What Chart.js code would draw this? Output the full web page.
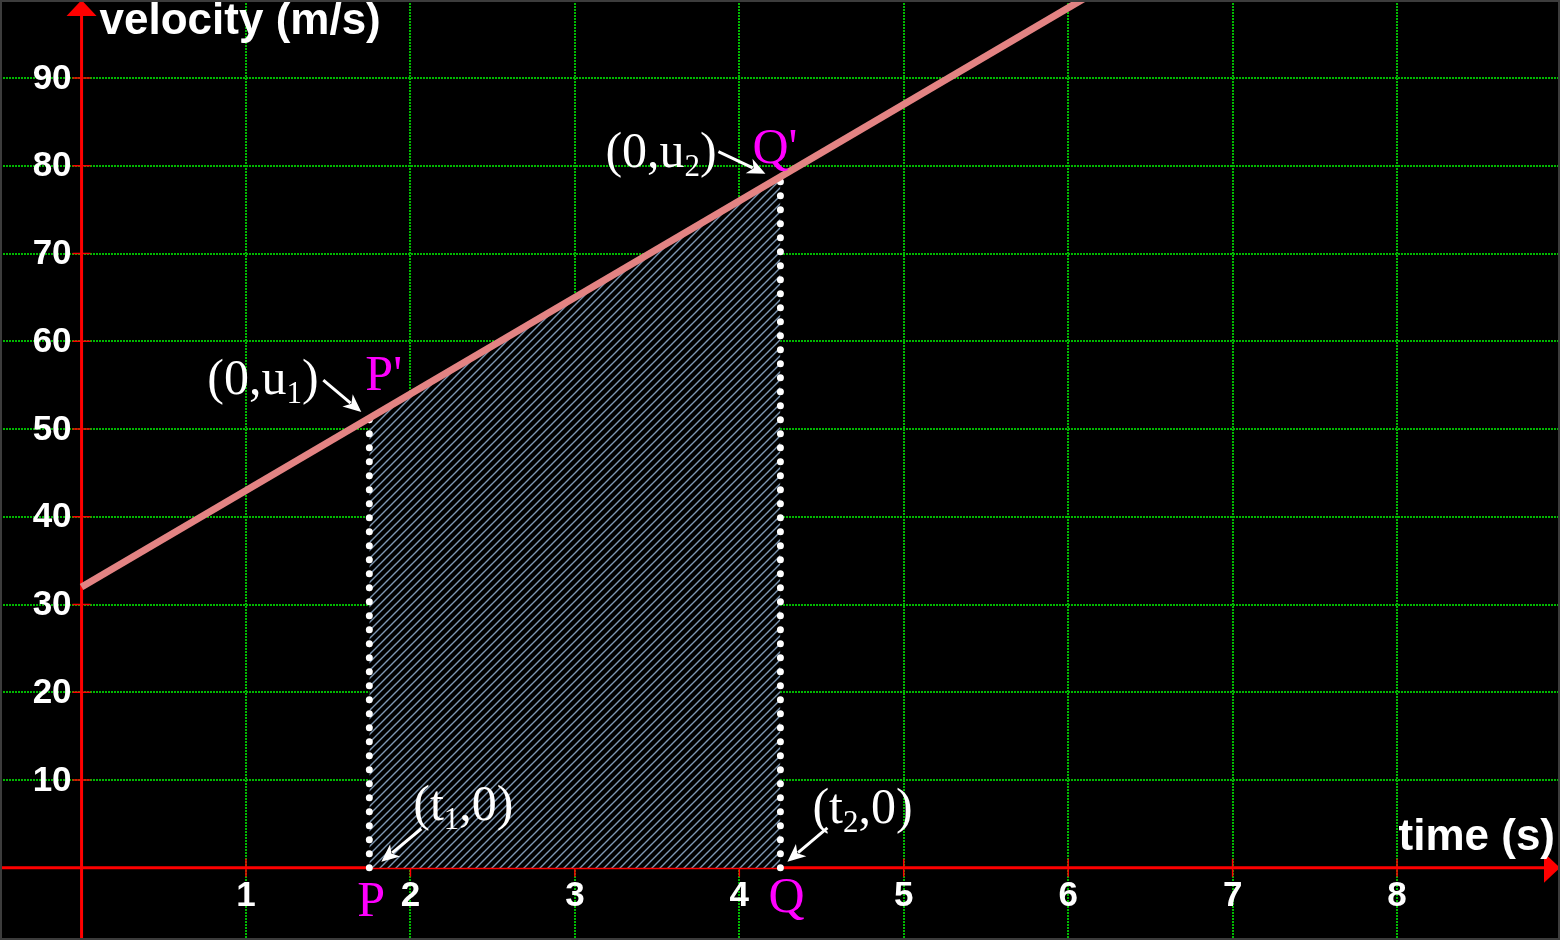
<!DOCTYPE html>
<html>
<head>
<meta charset="utf-8">
<title>velocity - time graph</title>
<script src="https://cdn.jsdelivr.net/npm/chart.js@4.4.1/dist/chart.umd.min.js"></script>
<style>
  html, body { margin: 0; padding: 0; background: #000; }
  #wrap { width: 1560px; height: 940px; position: relative; }
</style>
</head>
<body>
<div id="wrap"><canvas id="vtChart"></canvas></div>
<script>
// axis ranges
const xRange = [-0.496, 8.991];
const yRange = [-8.23, 98.89];
const xTicks = [1, 2, 3, 4, 5, 6, 7, 8];
const yTicks = [10, 20, 30, 40, 50, 60, 70, 80, 90];

// the velocity line (v = 32 + 11 t)
const lineT = [0, 6.1];
const lineV = [32, 99.1];

// instants t1, t2 and the velocities u1, u2 at them
const pointT = [1.75, 4.25];
const pointV = [51.25, 78.75];

const RED = '#ff0000';
const GREEN = 'rgb(0,185,0)';
const MAGENTA = '#ff00ff';
const SERIF = '"Liberation Serif", "Times New Roman", serif';
const SANS = '"Liberation Sans", Arial, sans-serif';

// annotations: anchor index / which end, text offset and arrow offsets (px)
const notes = [
  { i: 0, top: true,  parts: [['(0,u'], ['1', 1], [')']], dx: -162, dy: -24, arrow: [-46, -38, -8, -6] },
  { i: 1, top: true,  parts: [['(0,u'], ['2', 1], [')']], dx: -175, dy: -10, arrow: [-62, -25, -15, -3] },
  { i: 0, top: false, parts: [['(t'], ['1', 1], [',0)']], dx: 44, dy: -48, arrow: [52, -39, 12, -6] },
  { i: 1, top: false, parts: [['(t'], ['2', 1], [',0)']], dx: 32, dy: -45, arrow: [47, -40, 7, -6] }
];
const letters = [
  { i: 0, top: true,  text: "P'", dx: -4, dy: -28 },
  { i: 1, top: true,  text: "Q'", dx: -28, dy: -14 },
  { i: 0, top: false, text: 'P', dx: -12, dy: 48 },
  { i: 1, top: false, text: 'Q', dx: -12, dy: 44 }
];

function makeHatch(ctx) {
  const c = document.createElement('canvas');
  c.width = 8; c.height = 8;
  const g = c.getContext('2d');
  g.fillStyle = '#000';
  g.fillRect(0, 0, 8, 8);
  g.strokeStyle = '#7e98b4';
  g.lineWidth = 1.4;
  g.beginPath();
  g.moveTo(-2, 10); g.lineTo(10, -2);
  g.moveTo(-2, 2); g.lineTo(2, -2);
  g.moveTo(6, 10); g.lineTo(10, 6);
  g.stroke();
  return ctx.createPattern(c, 'repeat');
}

function anchorPx(chart, i, top) {
  return [chart.scales.x.getPixelForValue(pointT[i]),
          chart.scales.y.getPixelForValue(top ? pointV[i] : 0)];
}

function drawArrow(ctx, x1, y1, x2, y2) {
  const a = Math.atan2(y2 - y1, x2 - x1);
  const head = 18, half = 8;
  const bx = x2 - head * Math.cos(a), by = y2 - head * Math.sin(a);
  ctx.beginPath();
  ctx.moveTo(x1, y1);
  ctx.lineTo(bx + 4 * Math.cos(a), by + 4 * Math.sin(a));
  ctx.stroke();
  ctx.beginPath();
  ctx.moveTo(x2, y2);
  ctx.lineTo(bx + half * Math.sin(a), by - half * Math.cos(a));
  ctx.lineTo(bx + 5 * Math.cos(a), by + 5 * Math.sin(a));
  ctx.lineTo(bx - half * Math.sin(a), by + half * Math.cos(a));
  ctx.closePath();
  ctx.fill();
}

// background + frame
const backdrop = {
  id: 'backdrop',
  beforeDraw(chart) {
    const ctx = chart.ctx;
    ctx.save();
    ctx.fillStyle = '#000';
    ctx.fillRect(0, 0, chart.width, chart.height);
    ctx.restore();
  },
  afterDraw(chart) {
    const ctx = chart.ctx;
    ctx.save();
    ctx.strokeStyle = '#3c3c3c';
    ctx.lineWidth = 2;
    ctx.strokeRect(1, 1, chart.width - 2, chart.height - 2);
    ctx.restore();
  }
};

// red axes with arrows and small ticks
const redAxes = {
  id: 'redAxes',
  beforeDatasetsDraw(chart) {
    const { ctx, chartArea: a, scales: { x, y } } = chart;
    const x0 = x.getPixelForValue(0), y0 = y.getPixelForValue(0);
    ctx.save();
    ctx.strokeStyle = RED;
    ctx.fillStyle = RED;
    ctx.lineWidth = 3;
    ctx.beginPath();
    ctx.moveTo(x0, a.bottom); ctx.lineTo(x0, a.top + 10);
    ctx.moveTo(a.left, y0); ctx.lineTo(a.right - 10, y0);
    ctx.stroke();
    ctx.lineWidth = 1.5;
    ctx.beginPath();
    xTicks.forEach(t => {
      const px = x.getPixelForValue(t);
      ctx.moveTo(px, y0 - 9); ctx.lineTo(px, y0 + 9);
    });
    yTicks.forEach(v => {
      const py = y.getPixelForValue(v);
      ctx.moveTo(x0 - 9, py); ctx.lineTo(x0 + 9, py);
    });
    ctx.stroke();
    ctx.beginPath();
    ctx.moveTo(x0, a.top); ctx.lineTo(x0 - 15, a.top + 16); ctx.lineTo(x0 + 15, a.top + 16);
    ctx.closePath(); ctx.fill();
    ctx.beginPath();
    ctx.moveTo(a.right, y0); ctx.lineTo(a.right - 16, y0 - 15); ctx.lineTo(a.right - 16, y0 + 15);
    ctx.closePath(); ctx.fill();
    ctx.restore();
  }
};

// tick labels, axis titles, annotations
const texts = {
  id: 'texts',
  afterDatasetsDraw(chart) {
    const { ctx, chartArea: a, scales: { x, y } } = chart;
    const x0 = x.getPixelForValue(0), y0 = y.getPixelForValue(0);
    ctx.save();
    ctx.fillStyle = '#fff';
    ctx.font = 'bold 35px ' + SANS;
    ctx.textAlign = 'right';
    ctx.textBaseline = 'middle';
    yTicks.forEach(v => ctx.fillText(String(v), x0 - 10, y.getPixelForValue(v) + 1));
    ctx.textAlign = 'center';
    xTicks.forEach(t => ctx.fillText(String(t), x.getPixelForValue(t), y0 + 29));

    ctx.font = 'bold 44px ' + SANS;
    ctx.textBaseline = 'alphabetic';
    ctx.textAlign = 'left';
    ctx.fillText('velocity (m/s)', x0 + 18, a.top + 34);
    ctx.textAlign = 'right';
    ctx.fillText('time (s)', a.right - 5, y0 - 18);

    ctx.textAlign = 'left';
    ctx.strokeStyle = '#fff';
    ctx.lineWidth = 3;
    notes.forEach(n => {
      const [ax, ay] = anchorPx(chart, n.i, n.top);
      let cx = ax + n.dx;
      n.parts.forEach(([s, sub]) => {
        ctx.font = (sub ? '31px ' : '50px ') + SERIF;
        ctx.fillText(s, cx, ay + n.dy + (sub ? 9 : 0));
        cx += ctx.measureText(s).width;
      });
      const r = n.arrow;
      drawArrow(ctx, ax + r[0], ay + r[1], ax + r[2], ay + r[3]);
    });

    ctx.fillStyle = MAGENTA;
    ctx.font = '50px ' + SERIF;
    letters.forEach(l => {
      const [ax, ay] = anchorPx(chart, l.i, l.top);
      ctx.fillText(l.text, ax + l.dx, ay + l.dy);
    });
    ctx.restore();
  }
};

const canvas = document.getElementById('vtChart');
const ctx2d = canvas.getContext('2d');

// white dotted drop lines at t1 and t2
const dotted = i => ({
  data: [{ x: pointT[i], y: 0 }, { x: pointT[i], y: pointV[i] }],
  borderColor: '#fff',
  borderWidth: 7,
  borderDash: [0, 14],
  borderCapStyle: 'round',
  pointRadius: 0,
  fill: false,
  order: 1
});

new Chart(ctx2d, {
  type: 'line',
  data: {
    datasets: [
      {
        label: 'velocity',
        data: lineT.map((t, k) => ({ x: t, y: lineV[k] })),
        borderColor: '#e38383',
        borderWidth: 7,
        pointRadius: 0,
        fill: false,
        order: 0
      },
      dotted(0),
      dotted(1),
      {
        label: 'area',
        data: pointT.map((t, k) => ({ x: t, y: pointV[k] })),
        borderWidth: 0,
        pointRadius: 0,
        backgroundColor: makeHatch(ctx2d),
        fill: 'origin',
        order: 2
      }
    ]
  },
  options: {
    responsive: true,
    maintainAspectRatio: false,
    devicePixelRatio: 1,
    animation: false,
    layout: { padding: 0 },
    plugins: { legend: { display: false }, tooltip: { enabled: false } },
    scales: {
      x: {
        type: 'linear',
        min: xRange[0],
        max: xRange[1],
        ticks: { display: false, stepSize: 1 },
        grid: {
          drawTicks: false,
          lineWidth: 2,
          color: c => (Number.isInteger(c.tick.value) && c.tick.value > 0) ? GREEN : 'transparent'
        },
        border: { display: false, dash: [2, 1] }
      },
      y: {
        type: 'linear',
        min: yRange[0],
        max: yRange[1],
        ticks: { display: false, stepSize: 10 },
        grid: {
          drawTicks: false,
          lineWidth: 2,
          color: c => (c.tick.value > 0 && Math.abs(c.tick.value % 10) < 1e-6) ? GREEN : 'transparent'
        },
        border: { display: false, dash: [2, 1] }
      }
    }
  },
  plugins: [backdrop, redAxes, texts]
});
</script>
</body>
</html>
